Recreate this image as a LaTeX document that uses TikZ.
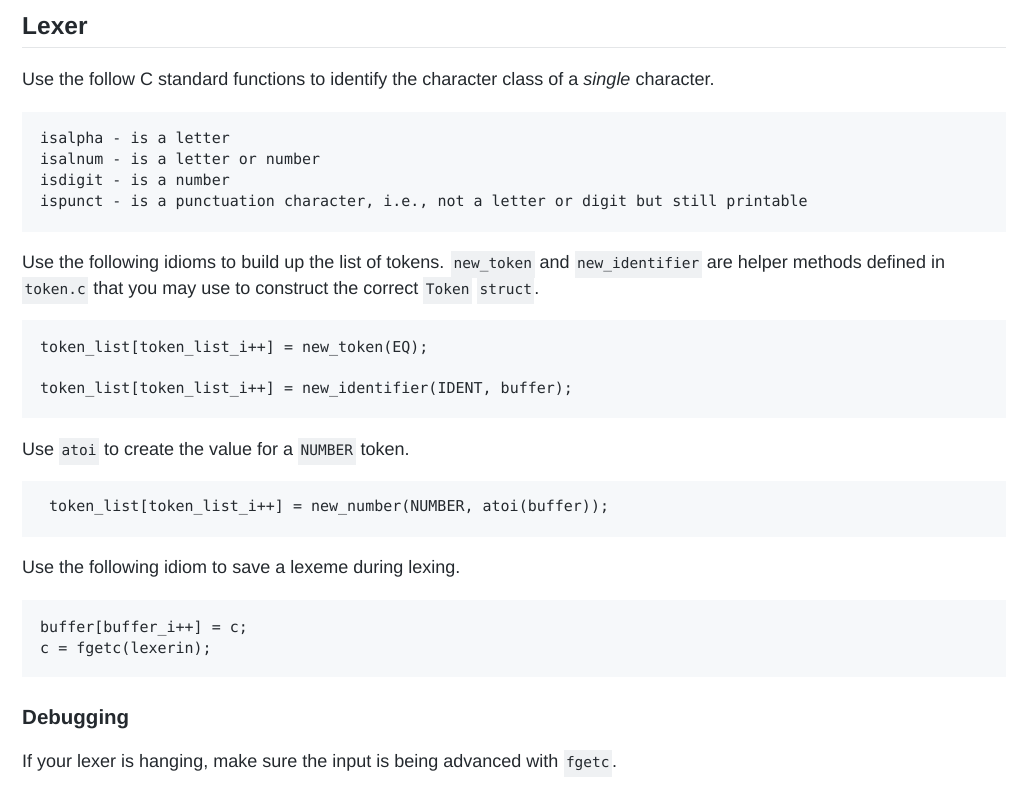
\documentclass[tikz,border=0pt]{standalone}
\usepackage{fontspec}
\setmainfont{Liberation Sans}
\setmonofont{DejaVu Sans Mono}
\definecolor{codebg}{HTML}{F6F8FA}
\definecolor{inlbg}{HTML}{EFF1F3}
\definecolor{txt}{HTML}{24292E}
\definecolor{rule}{HTML}{E4E6E8}
\newcommand{\ic}[1]{{\setlength{\fboxsep}{2.5pt}\colorbox{inlbg}{\strut\fontsize{14.5}{16}\ttfamily #1}}}
\begin{document}
\begin{tikzpicture}[x=1pt,y=-1pt,
  body/.style={anchor=west,inner sep=0pt,text=txt,font=\fontsize{18}{22}\selectfont},
  code/.style={anchor=west,inner sep=0pt,text=txt,font=\fontsize{15}{21}\ttfamily,align=left},
  block/.style={fill=codebg,draw=none}]
\useasboundingbox[fill=white] (0,0) rectangle (1024,805);
\node[body,font=\fontsize{24.5}{28}\bfseries] (title) at (22,26) {Lexer};
\draw[rule,line width=1pt] (22,48) -- (1006,48);
\node[body] (p1) at (22,81) {Use the follow C standard functions to identify the character class of a \textit{single} character.};
\fill[block] (22,112) rectangle (1006,232);
\node[code] (c1) at (40,171) {isalpha - is a letter\\isalnum - is a letter or number\\isdigit - is a number\\ispunct - is a punctuation character, i.e., not a letter or digit but still printable};
\node[body] (p2) at (22,264) {Use the following idioms to build up the list of tokens. \ic{new\_token} and \ic{new\_identifier} are helper methods defined in};
\node[body] (p3) at (22,290) {\ic{token.c} that you may use to construct the correct \ic{Token} \ic{struct}.};
\fill[block] (22,320) rectangle (1006,418);
\node[code] (c2) at (40,349) {token\_list[token\_list\_i++] = new\_token(EQ);};
\node[code] (c3) at (40,390) {token\_list[token\_list\_i++] = new\_identifier(IDENT, buffer);};
\node[body] (p4) at (22,451) {Use \ic{atoi} to create the value for a \ic{NUMBER} token.};
\fill[block] (22,481) rectangle (1006,537);
\node[code] (c4) at (49,508) {token\_list[token\_list\_i++] = new\_number(NUMBER, atoi(buffer));};
\node[body] (p5) at (22,569) {Use the following idiom to save a lexeme during lexing.};
\fill[block] (22,600) rectangle (1006,677);
\node[code] (c5) at (40,639) {buffer[buffer\_i++] = c;\\c = fgetc(lexerin);};
\node[body,font=\fontsize{20.5}{24}\bfseries] (h2) at (22,719) {Debugging};
\node[body] (p6) at (22,763) {If your lexer is hanging, make sure the input is being advanced with \ic{fgetc}.};
\end{tikzpicture}
\end{document}
